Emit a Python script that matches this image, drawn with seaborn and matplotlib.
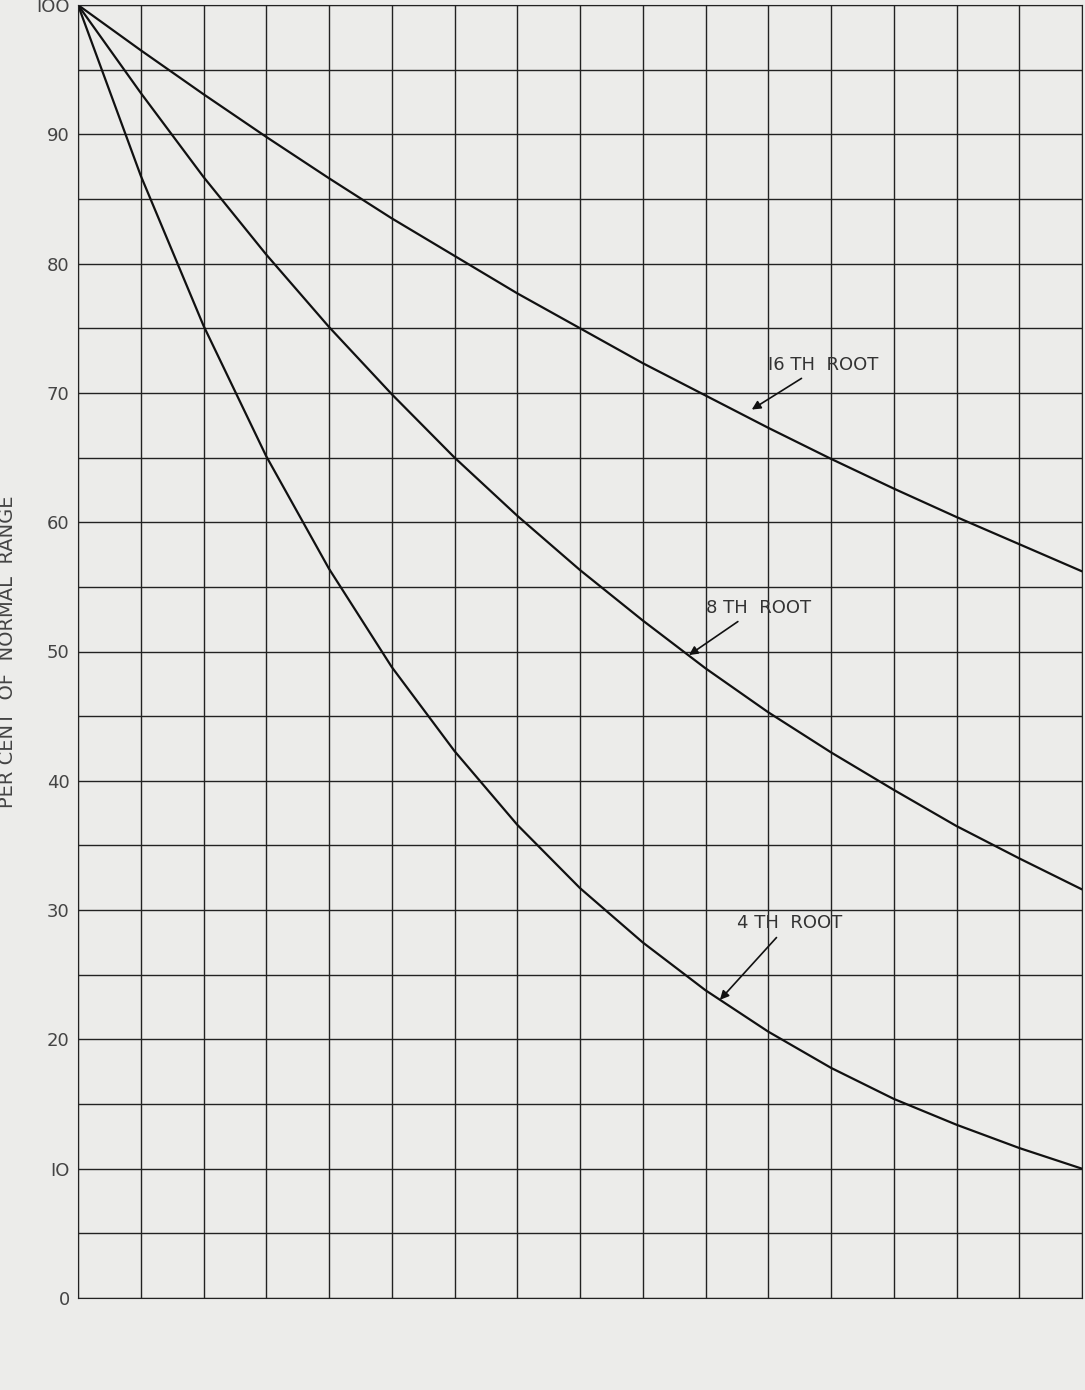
import matplotlib
matplotlib.use("Agg")
import matplotlib.pyplot as plt
import seaborn as sns
import pandas as pd

x_vals = list(range(17))
root16 = [100, 96.5, 93.1, 89.8, 86.6, 83.5, 80.6, 77.7, 75.0, 72.3, 69.8, 67.3, 64.9, 62.6, 60.4, 58.3, 56.2]
root8 = [100, 93.2, 86.7, 80.7, 75.1, 69.9, 65.0, 60.5, 56.3, 52.4, 48.7, 45.3, 42.2, 39.3, 36.5, 34.0, 31.6]
root4 = [100, 86.8, 75.2, 65.1, 56.4, 48.8, 42.3, 36.6, 31.7, 27.5, 23.8, 20.6, 17.8, 15.4, 13.4, 11.6, 10.0]
y_ticks = [0, 10, 20, 30, 40, 50, 60, 70, 80, 90, 100]
y_labels = ["0", "IO", "20", "30", "40", "50", "60", "70", "80", "90", "IOO"]

df = pd.DataFrame({"x": x_vals * 3, "y": root16 + root8 + root4,
                   "s": ["16"] * 17 + ["8"] * 17 + ["4"] * 17})

sns.set_style("white")
bg = "#ececea"
fig = plt.figure(figsize=(10.85, 13.9), dpi=100, facecolor=bg)
ax = fig.add_axes([78 / 1085, 92 / 1390, 1004 / 1085, 1293 / 1390])
ax.set_facecolor(bg)
sns.lineplot(data=df, x="x", y="y", hue="s", palette=["#111111"] * 3, legend=False,
             linewidth=1.6, ax=ax)
ax.set_xlim(0, 16)
ax.set_ylim(0, 100)
ax.set_xticks(x_vals)
ax.set_yticks(y_ticks)
ax.set_yticks([i * 5 for i in range(21)], minor=True)
ax.grid(True, color="#222222", linewidth=1.0)
ax.grid(True, which="minor", axis="y", color="#222222", linewidth=1.0)
ax.set_xticklabels([])
ax.set_yticklabels(y_labels, fontsize=13, color="#444")
ax.tick_params(axis="both", which="both", length=0, pad=6)
ax.set_xlabel("")
ax.set_ylabel("PER CENT  OF  NORMAL  RANGE", fontsize=14, color="#444", labelpad=14)
for sp in ax.spines.values():
    sp.set_color("#222222")

kw = dict(fontsize=13, color="#333", arrowprops=dict(arrowstyle="-|>", color="#111", lw=1.2))
ax.annotate("I6 TH  ROOT", xy=(10.7, 68.6), xytext=(11.0, 71.8), **kw)
ax.annotate("8 TH  ROOT", xy=(9.7, 49.6), xytext=(10.0, 53.0), **kw)
ax.annotate("4 TH  ROOT", xy=(10.2, 22.9), xytext=(10.5, 28.6), **kw)

fig.savefig("out.png", dpi=100, facecolor=bg)
